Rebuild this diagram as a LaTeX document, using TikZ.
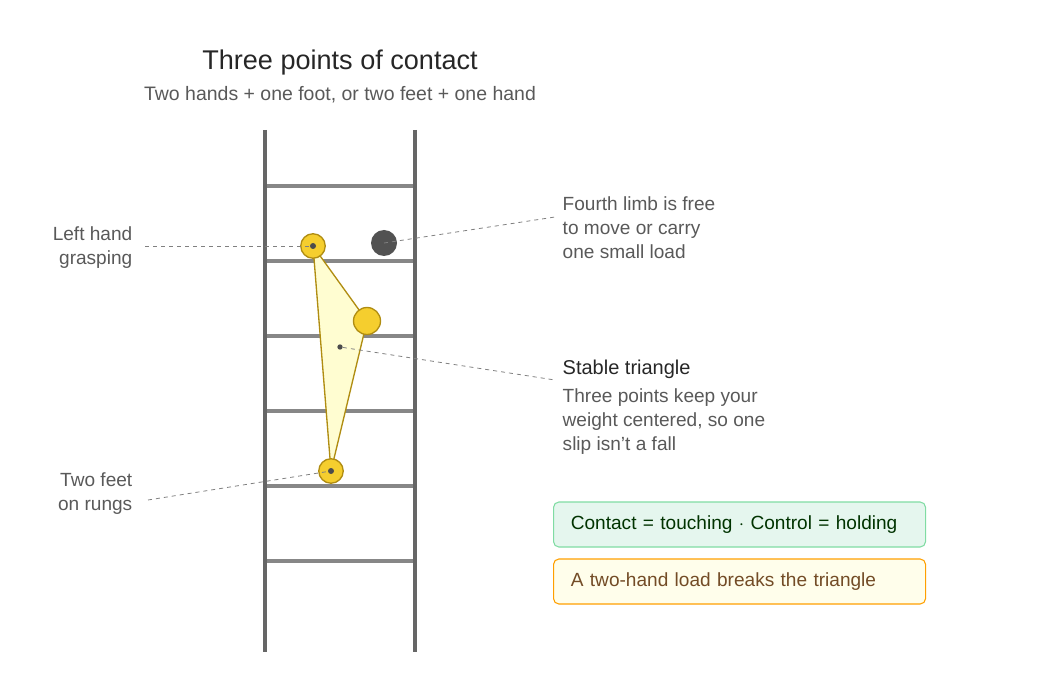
\documentclass[tikz,border=0pt]{standalone}
\usepackage{fontspec}
\setmainfont{Liberation Sans}
\definecolor{gold}{HTML}{F5CE2E}
\definecolor{goldline}{HTML}{B08D12}
\begin{document}
\begin{tikzpicture}[x=0.75pt,y=-0.75pt,
  rail/.style={draw=black!60,line width=3pt},
  rung/.style={draw=black!47,line width=3pt},
  hold/.style={circle,draw=goldline,fill=gold,line width=1pt,minimum size=24.5*0.75pt,inner sep=0pt},
  lead/.style={draw=black!50,dashed,line width=0.6pt},
  lbl/.style={font=\fontsize{14.3}{18}\selectfont,text=black!65},
  dotc/.style={circle,fill=black!70,inner sep=0pt,minimum size=5pt},
  note/.style={rounded corners=4pt,line width=0.8pt,minimum width=372*0.75pt,minimum height=45*0.75pt,anchor=west,inner xsep=13pt,text width=372*0.75pt-26pt,font=\fontsize{14.3}{16}\selectfont}]
\useasboundingbox (0,0) rectangle (1063,691);
\node (title) at (340,63) {\fontsize{20.3}{24}\selectfont\color{black!85} Three points of contact};
\node[lbl,font=\fontsize{14.6}{18}\selectfont] (sub) at (340,95) {Two hands + one foot, or two feet + one hand};
\foreach \y in {186,261,336,411,486,561} \draw[rung] (265,\y) -- (415,\y);
\draw[rail] (265,130) -- (265,652);
\draw[rail] (415,130) -- (415,652);
\coordinate (lh) at (313,246);
\coordinate (h2) at (367,321);
\coordinate (ft) at (331,471);
\fill[yellow!18!white] (lh) -- (h2) -- (ft) -- cycle;
\draw[draw=goldline,line width=1pt,line join=round] (lh) -- (h2) -- (ft) -- cycle;
\node[hold] (LH) at (lh) {};
\node[hold,minimum size=27*0.75pt] (H2) at (h2) {};
\node[hold] (FT) at (ft) {};
\node[circle,fill=black!68,minimum size=26*0.75pt,inner sep=0pt] (free) at (384,243) {};
\node[dotc,minimum size=4pt] (c) at (340,347) {};
\node[dotc,minimum size=4.5pt] (d1) at (lh) {};
\node[dotc,minimum size=4.5pt] (d2) at (ft) {};
\node[lbl,align=right,anchor=east] (tl) at (137,248) {Left hand\\grasping};
\node[lbl,align=right,anchor=east] (tf) at (137,494) {Two feet\\on rungs};
\node[lbl,align=left,anchor=west] (tfree) at (558,228) {Fourth limb is free\\to move or carry\\one small load};
\node[anchor=west,font=\fontsize{15}{18}\selectfont,text=black!85] (st) at (558,369) {Stable triangle};
\node[lbl,align=left,anchor=north west] (sd) at (558,384) {Three points keep your\\weight centered, so one\\slip isn't a fall};
\coordinate (a1) at (145,246);
\coordinate (a2) at (555,217);
\coordinate (a3) at (555,380);
\coordinate (a4) at (148,500);
\draw[lead] (a1) -- (d1);
\draw[lead] (free.center) -- (a2);
\draw[lead] (c) -- (a3);
\draw[lead] (a4) -- (d2);
\node[note,draw=green!45!teal!50,fill=green!30!teal!10,text=green!20!black] (n1) at (553,524.5) {Contact = touching $\cdot$ Control = holding};
\node[note,draw=orange!75!yellow,fill=orange!12!yellow!8,text=brown!60!black] (n2) at (553,581.5) {A two-hand load breaks the triangle};
\end{tikzpicture}
\end{document}
